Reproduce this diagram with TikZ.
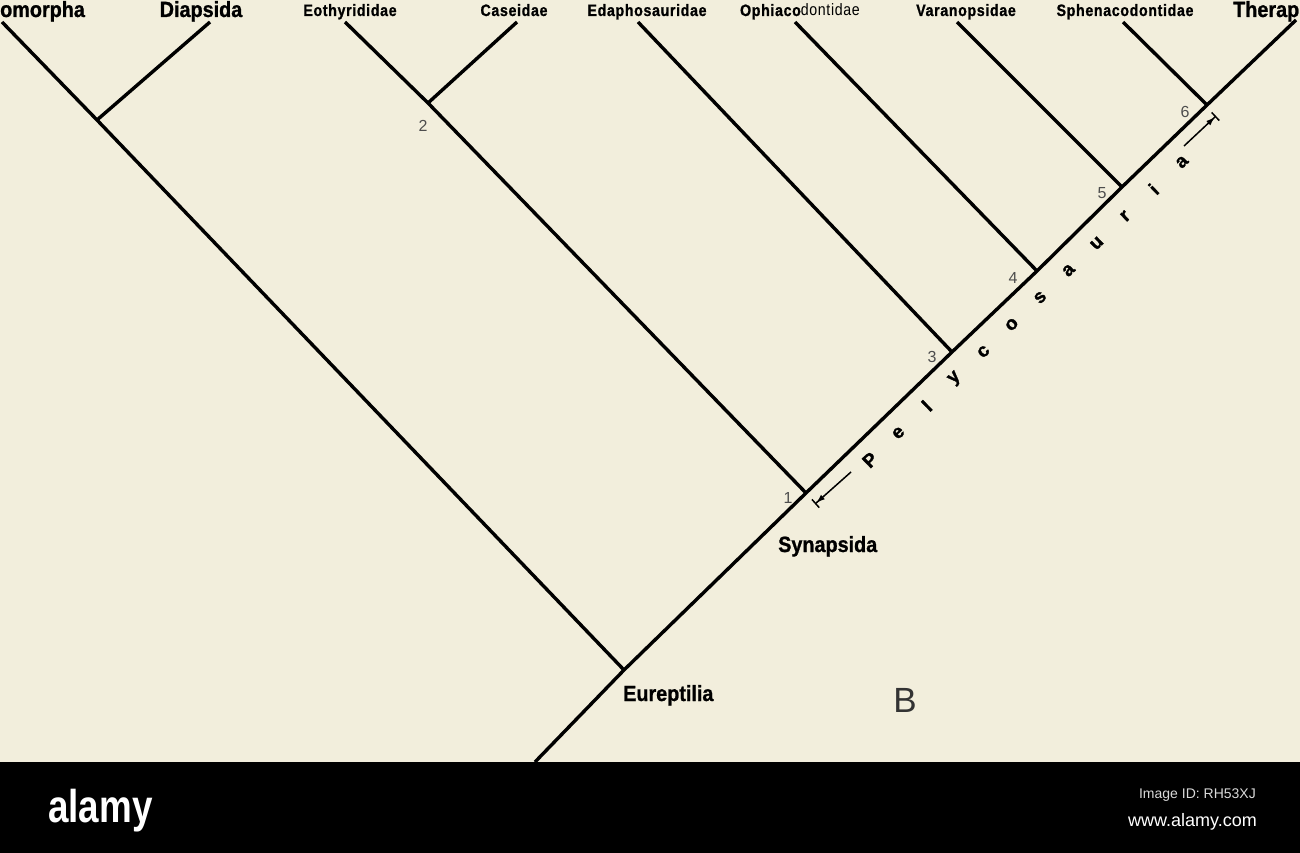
\documentclass[tikz,border=0pt]{standalone}
\usepackage{fontspec}
\setmainfont{Liberation Sans}
\newfontfamily\labf[FakeStretch=0.86,LetterSpace=4,FakeBold=1]{Liberation Sans}
\newfontfamily\labfr[FakeStretch=0.86,LetterSpace=4]{Liberation Sans}
\newfontfamily\bigf[FakeStretch=0.9,FakeBold=1]{Liberation Sans}
\newfontfamily\pelf[FakeBold=1.5]{Liberation Sans}
\newfontfamily\logof[FakeStretch=0.8]{Liberation Sans}
\usetikzlibrary{arrows.meta}
\definecolor{paper}{HTML}{F2EEDC}
\definecolor{numgray}{HTML}{4D4D4D}
\begin{document}
\begin{tikzpicture}[x=1pt,y=-1pt,
  branch/.style={line width=3.4pt},
  smalllab/.style={anchor=base,inner sep=0pt,font=\labf\bfseries\fontsize{16.5}{18}\selectfont},
  biglab/.style={inner sep=0pt,font=\bigf\bfseries\fontsize{22}{24}\selectfont},
  numlab/.style={inner sep=0pt,text=numgray,font=\fontsize{16}{18}\selectfont},
  pely/.style={inner sep=0pt,rotate=44,font=\pelf\bfseries\fontsize{19}{21}\selectfont},
  rangearrow/.style={line width=1.5pt,-{Latex[length=9pt,width=6pt]Bar[width=11pt,line width=1.5pt]}}]
\useasboundingbox (0,0) rectangle (1300,853);
\fill[paper] (0,0) rectangle (1300,763);
\fill[black] (0,762) rectangle (1300,853);

% branch points
\coordinate (root) at (535,762);
\coordinate (eur) at (624,670);
\coordinate (n1) at (806,493);
\coordinate (n3) at (952,352);
\coordinate (n4) at (1037,271);
\coordinate (n5) at (1122,187);
\coordinate (n6) at (1207,105);
\coordinate (nDi) at (97,120);
\coordinate (n2) at (428,103);
% tips
\coordinate (tAnap) at (2,22);
\coordinate (tDiap) at (210,22);
\coordinate (tEoth) at (345,22);
\coordinate (tCase) at (517,22);
\coordinate (tEdap) at (638,22);
\coordinate (tOphi) at (795,22);
\coordinate (tVara) at (957,22);
\coordinate (tSphe) at (1123,22);
\coordinate (tTher) at (1296,20);

% tree
\draw[branch] (root) -- (eur) -- (n1) -- (n3) -- (n4) -- (n5) -- (n6) -- (tTher);
\draw[branch] (tAnap) -- (nDi) -- (eur);
\draw[branch] (nDi) -- (tDiap);
\draw[branch] (tEoth) -- (n2) -- (n1);
\draw[branch] (n2) -- (tCase);
\draw[branch] (tEdap) -- (n3);
\draw[branch] (tOphi) -- (n4);
\draw[branch] (tVara) -- (n5);
\draw[branch] (tSphe) -- (n6);

% top labels
\node[biglab,anchor=base west] (lAnap) at (0,17) {omorpha};
\node[biglab,anchor=base] (lDiap) at (201,17) {Diapsida};
\node[smalllab] (lEoth) at (350,16) {Eothyrididae};
\node[smalllab] (lCase) at (514,16) {Caseidae};
\node[smalllab] (lEdap) at (647,16) {Edaphosauridae};
\node[smalllab] (lOphi) at (800,16) {Ophiaco{\labfr\mdseries dontidae}};
\node[smalllab] (lVara) at (966,16) {Varanopsidae};
\node[smalllab] (lSphe) at (1125,16) {Sphenacodontidae};
\node[biglab,anchor=base west] (lTher) at (1233,17) {Therap};

% inner labels
\node[biglab,anchor=base west] (lSyn) at (778,552) {Synapsida};
\node[biglab,anchor=base west] (lEur) at (623,701) {Eureptilia};
\node[inner sep=0pt,font=\fontsize{35}{38}\selectfont,text=black!80] (lB) at (905,700) {B};

% node numbers
\node[numlab] (k1) at (788,498) {1};
\node[numlab] (k2) at (423,126) {2};
\node[numlab] (k3) at (932,357) {3};
\node[numlab] (k4) at (1013,278) {4};
\node[numlab] (k5) at (1102,193) {5};
\node[numlab] (k6) at (1185,112) {6};

% Pelycosauria
\foreach \ch [count=\k from 0] in {P,e,l,y,c,o,s,a,u,r,i,a}
  \node[pely] (pl\k) at ({870+28.36*\k},{460-27.09*\k}) {\ch};
\coordinate (a1s) at (851,472);
\coordinate (a1e) at (815,504);
\coordinate (a6s) at (1184,146);
\coordinate (a6e) at (1216,116);
\draw[rangearrow] (a1s) -- (a1e);
\draw[rangearrow] (a6s) -- (a6e);

% footer
\node[inner sep=0pt,anchor=base west,text=white,font=\logof\bfseries\fontsize{46}{48}\selectfont] (logo) at (48,822) {alamy};
\node[inner sep=0pt,anchor=base east,text=white!85!black,font=\fontsize{14}{16}\selectfont] (imgid) at (1256,798) {Image ID: RH53XJ};
\node[inner sep=0pt,anchor=base east,text=white,font=\fontsize{18}{20}\selectfont] (www) at (1257,826) {www.alamy.com};
\end{tikzpicture}
\end{document}
